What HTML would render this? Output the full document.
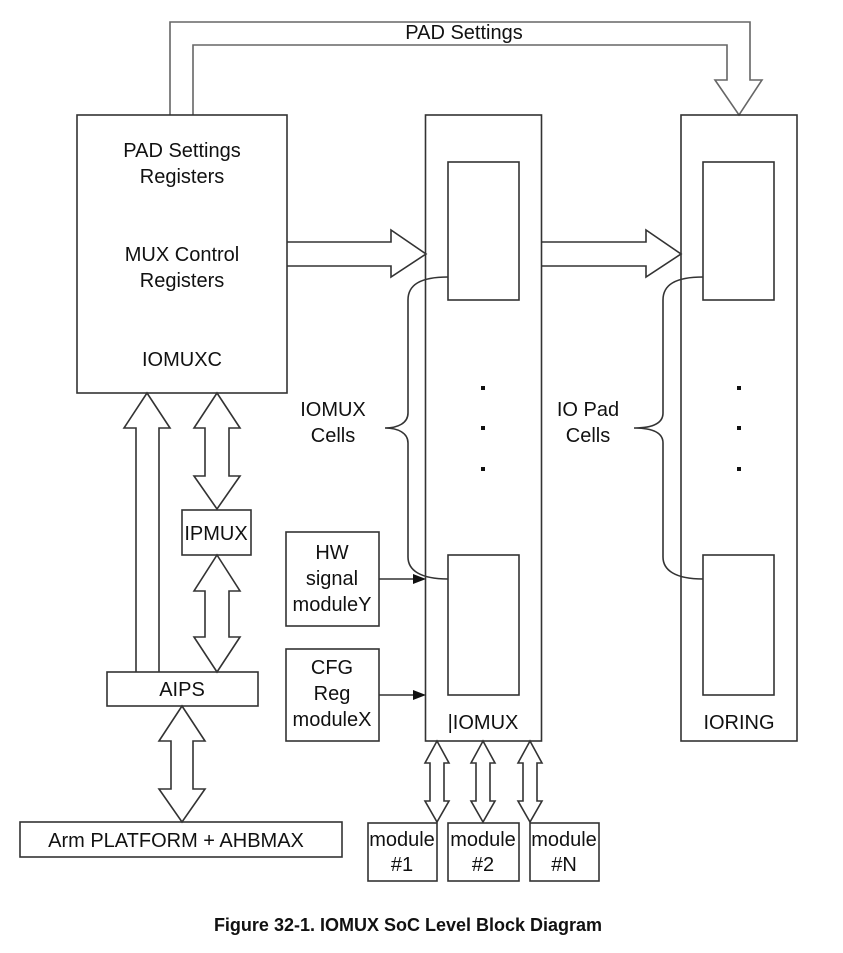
<!DOCTYPE html>
<html><head><meta charset="utf-8"><style>
html,body{margin:0;padding:0;background:#fff;}
svg{display:block;}
text{font-family:"Liberation Sans",Arial,sans-serif;font-size:20px;fill:#111;}
</style></head><body>
<svg width="843" height="953" viewBox="0 0 843 953" xmlns="http://www.w3.org/2000/svg">
<g fill="none" stroke="#333" stroke-width="1.6">
<path d="M170,115 V22 H750 V80 H762 L739,115 L715,80 H727 V45 H193 V115" stroke="#666"/>
<rect x="77" y="115" width="210" height="278"/>
<rect x="425.5" y="115" width="116" height="626"/>
<rect x="681" y="115" width="116" height="626"/>
<rect x="448" y="162" width="71" height="138"/>
<rect x="703" y="162" width="71" height="138"/>
<rect x="448" y="555" width="71" height="140"/>
<rect x="703" y="555" width="71" height="140"/>
<rect x="182" y="510" width="69" height="45"/>
<rect x="107" y="672" width="151" height="34"/>
<rect x="20" y="822" width="322" height="35"/>
<rect x="286" y="532" width="93" height="94"/>
<rect x="286" y="649" width="93" height="92"/>
<rect x="368" y="823" width="69" height="58"/>
<rect x="448" y="823" width="71" height="58"/>
<rect x="530" y="823" width="69" height="58"/>
<path d="M287,242 H391 V230 L426,254 L391,277 V266 H287"/>
<path d="M541,242 H646 V230 L681,254 L646,277 V266 H541"/>
<path d="M136,672 V428 H124 L147,393 L170,428 H159 V672"/>
<path d="M217,393 L240,428 H229 V476 H240 L217,509 L194,476 H205 V428 H194 Z"/>
<path d="M217,555 L240,591 H229 V637 H240 L217,672 L194,637 H205 V591 H194 Z"/>
<path d="M182,706 L205,741 H193 V789 H205 L182,822 L159,789 H171 V741 H159 Z"/>
<path d="M437,741 L449,763 H444 V801 H449 L437,822 L425,801 H430 V763 H425 Z"/>
<path d="M483,741 L495,763 H490 V801 H495 L483,822 L471,801 H476 V763 H471 Z"/>
<path d="M530,741 L542,763 H537 V801 H542 L530,822 L518,801 H523 V763 H518 Z"/>
<path d="M448,277 C420,277 408,285 408,300 V413 C408,423 398,428 385,428 C398,428 408,433 408,443 V557 C408,570 420,579 448,579"/>
<path d="M703,277 C675,277 663,285 663,300 V413 C663,423 653,428 634,428 C653,428 663,433 663,443 V557 C663,570 675,579 703,579"/>
<path d="M379,579 H415 M379,695 H415"/>
</g>
<g fill="#111">
<path d="M426,579 L413,574 L413,584 Z"/>
<path d="M426,695 L413,690 L413,700 Z"/>
<rect x="481" y="386" width="4" height="4"/><rect x="481" y="426" width="4" height="4"/><rect x="481" y="467" width="4" height="4"/>
<rect x="737" y="386" width="4" height="4"/><rect x="737" y="426" width="4" height="4"/><rect x="737" y="467" width="4" height="4"/>
</g>
<g text-anchor="middle">
<text x="464" y="39">PAD Settings</text>
<text x="182" y="157">PAD Settings</text>
<text x="182" y="183">Registers</text>
<text x="182" y="261">MUX Control</text>
<text x="182" y="287">Registers</text>
<text x="182" y="366">IOMUXC</text>
<text x="333" y="416">IOMUX</text>
<text x="333" y="442">Cells</text>
<text x="588" y="416">IO Pad</text>
<text x="588" y="442">Cells</text>
<text x="216" y="540">IPMUX</text>
<text x="332" y="559">HW</text>
<text x="332" y="585">signal</text>
<text x="332" y="611">moduleY</text>
<text x="332" y="674">CFG</text>
<text x="332" y="700">Reg</text>
<text x="332" y="726">moduleX</text>
<text x="483" y="729">|IOMUX</text>
<text x="739" y="729">IORING</text>
<text x="182" y="696">AIPS</text>
<text x="176" y="847">Arm PLATFORM + AHBMAX</text>
<text x="402" y="846">module</text><text x="402" y="871">#1</text>
<text x="483" y="846">module</text><text x="483" y="871">#2</text>
<text x="564" y="846">module</text><text x="564" y="871">#N</text>
<text x="408" y="931" style="font-weight:bold;font-size:18px">Figure 32-1. IOMUX SoC Level Block Diagram</text>
</g>
</svg>
</body></html>
